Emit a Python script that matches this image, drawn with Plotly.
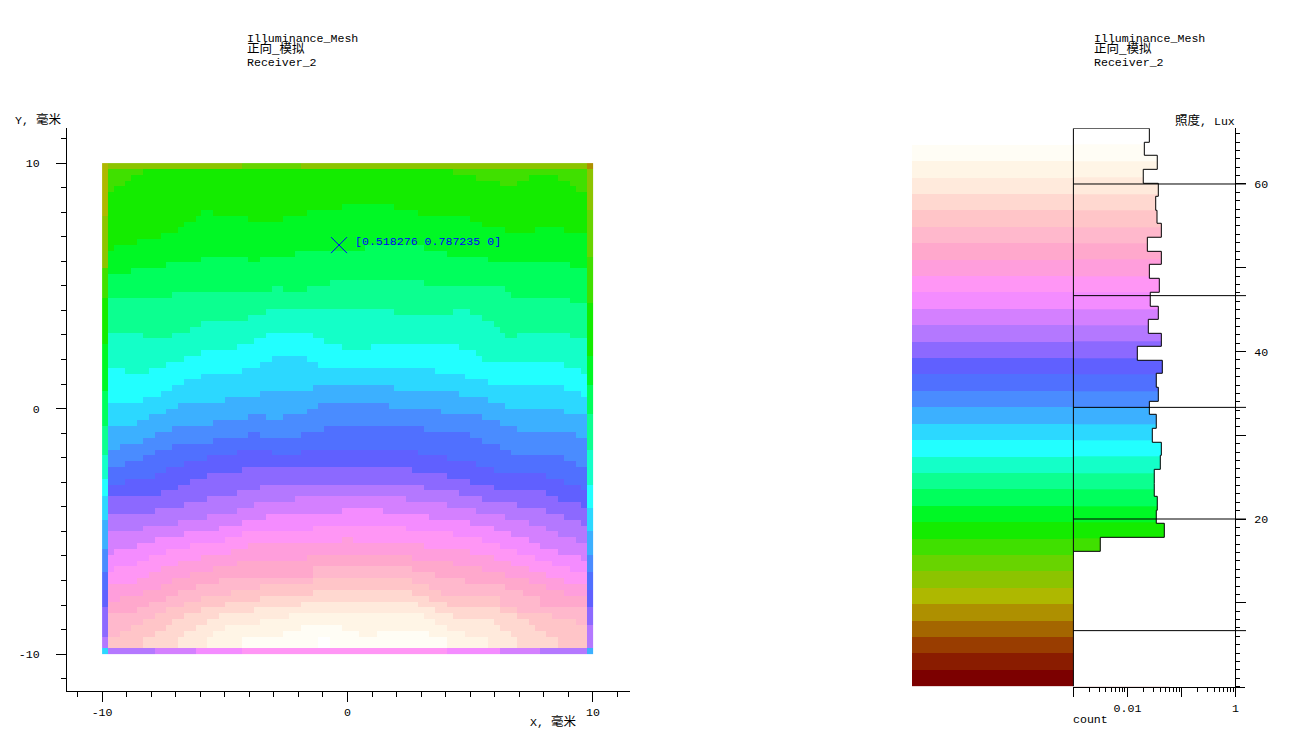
#! python3

# Illuminance map on the left, colour bar and log histogram on the right
import numpy as np
import plotly.graph_objects as go

W, H = 1299, 739
PAGE_MARGIN = 8  # the page body keeps its default margin
TEXT_PAD = 2  # annotations sit this far right of their anchor
MONO = 'Liberation Mono, Noto Sans CJK SC, monospace'

# colours of the illuminance levels, darkest level first
level_colors = ['#7C0000', '#8A1C00', '#993D00', '#A46600', '#AE9000', '#AEB800', '#8CC400',
                '#68D400', '#40E000', '#14EC00', '#00F825', '#00FF5C', '#0CFF90', '#14FFC8',
                '#22FFFF', '#2CD8FF', '#3CB0FF', '#4A8CFF', '#5070FF', '#6060FF', '#8C69FF',
                '#B478FF', '#D480FF', '#F48CFF', '#FF96F5', '#FF9EDC', '#FFA8CC', '#FFB8CC',
                '#FFC5C8', '#FFD8D0', '#FFEADC', '#FFF5E6', '#FFFDF5', '#FFFFFF']

# mesh of the receiver, cells 1 to 82 are the inside, 0 and 83 the edge
MESH_CELLS = 84
mesh_edges_mm = np.linspace(-10, 10, MESH_CELLS + 1)

# first mesh row of each level per column, as (end column, row) runs
top_9 = [(2, 5), (4, 4), (5, 3), (7, 2), (60, 1), (64, 2), (68, 3), (71, 4), (73, 3), (78, 2), (80, 3), (81, 4), (83, 5)]
top_10 = [(2, 15), (6, 14), (10, 13), (13, 12), (14, 11), (16, 10), (17, 9), (19, 8), (25, 9), (31, 10), (35, 9), (41, 8), (50, 7), (54, 8), (63, 9), (65, 10), (69, 11), (74, 12), (79, 11), (83, 12)]
top_11 = [(5, 19), (11, 18), (17, 17), (25, 16), (27, 17), (33, 16), (45, 15), (55, 14), (59, 15), (66, 16), (80, 17), (83, 18)]
top_12 = [(12, 23), (29, 22), (31, 21), (35, 22), (39, 21), (55, 20), (69, 21), (70, 22), (80, 23), (83, 24)]
top_13 = [(7, 29), (12, 30), (15, 29), (17, 28), (25, 27), (28, 26), (50, 25), (60, 26), (63, 25), (65, 26), (67, 27), (68, 28), (69, 29), (71, 30), (80, 29), (83, 30)]
top_14 = [(4, 35), (8, 36), (11, 35), (14, 34), (17, 33), (23, 32), (26, 31), (28, 30), (36, 29), (38, 30), (41, 31), (46, 32), (61, 31), (64, 32), (65, 33), (79, 34), (82, 35), (83, 36)]
top_15 = [(7, 41), (10, 40), (12, 39), (14, 38), (17, 37), (24, 36), (27, 35), (29, 34), (35, 33), (37, 34), (57, 35), (62, 36), (66, 37), (79, 38), (82, 39), (83, 40)]
top_16 = [(6, 45), (8, 44), (11, 43), (13, 42), (21, 41), (27, 40), (36, 39), (50, 38), (61, 39), (66, 40), (69, 41), (79, 42), (83, 43)]
top_17 = [(3, 49), (7, 48), (9, 47), (12, 46), (19, 45), (25, 44), (28, 43), (31, 44), (35, 43), (37, 42), (49, 41), (58, 42), (65, 43), (68, 44), (71, 45), (81, 46), (83, 47)]
top_18 = [(4, 52), (7, 51), (9, 50), (12, 49), (19, 48), (25, 47), (27, 46), (34, 47), (38, 46), (55, 45), (63, 46), (65, 47), (68, 48), (70, 49), (79, 50), (81, 51), (83, 52)]
top_19 = [(4, 55), (9, 54), (11, 53), (14, 52), (18, 51), (23, 50), (29, 49), (34, 50), (54, 49), (59, 50), (64, 51), (67, 52), (76, 53), (79, 54), (82, 55), (83, 56)]
top_20 = [(10, 57), (13, 56), (15, 55), (18, 54), (24, 53), (53, 52), (59, 53), (63, 54), (67, 55), (76, 56), (78, 57), (82, 58), (83, 59)]
top_21 = [(9, 60), (14, 59), (18, 58), (23, 57), (27, 56), (55, 55), (61, 56), (65, 57), (71, 58), (76, 59), (79, 60), (82, 61), (83, 62)]
top_22 = [(7, 63), (13, 62), (18, 61), (23, 60), (26, 59), (33, 58), (52, 57), (59, 58), (64, 59), (69, 60), (73, 61), (76, 62), (78, 63), (81, 64), (83, 65)]
top_23 = [(2, 67), (6, 66), (9, 65), (14, 64), (20, 63), (24, 62), (28, 61), (41, 60), (48, 59), (56, 60), (63, 61), (67, 62), (70, 63), (73, 64), (75, 65), (78, 66), (82, 67), (83, 68)]
top_24 = [(2, 70), (6, 69), (8, 68), (11, 67), (15, 66), (21, 65), (24, 64), (36, 63), (52, 62), (60, 63), (65, 64), (68, 65), (71, 66), (74, 67), (77, 68), (80, 69), (83, 70)]
top_25 = [(6, 72), (8, 71), (10, 70), (13, 69), (17, 68), (22, 67), (25, 66), (41, 65), (43, 64), (55, 65), (63, 66), (67, 67), (70, 68), (73, 69), (76, 70), (79, 71), (83, 72)]
top_26 = [(3, 75), (7, 74), (10, 73), (12, 72), (15, 71), (19, 70), (23, 69), (35, 68), (53, 67), (60, 68), (65, 69), (69, 70), (73, 71), (76, 72), (79, 73), (83, 74)]
top_27 = [(6, 77), (8, 76), (11, 75), (13, 74), (16, 73), (20, 72), (36, 71), (53, 69), (57, 70), (62, 71), (69, 72), (72, 73), (75, 74), (83, 76)]
top_28 = [(3, 81), (5, 80), (7, 79), (9, 78), (11, 77), (14, 76), (17, 75), (22, 74), (27, 73), (36, 72), (53, 71), (56, 72), (58, 73), (68, 74), (71, 76), (77, 77), (81, 78), (83, 79)]
top_29 = [(7, 83), (9, 81), (11, 80), (12, 79), (14, 78), (17, 77), (21, 76), (27, 75), (36, 74), (53, 73), (56, 74), (59, 75), (68, 76), (71, 77), (73, 78), (74, 79), (76, 80), (78, 81), (83, 83)]
top_30 = [(13, 83), (14, 81), (16, 80), (18, 79), (20, 78), (26, 77), (34, 76), (54, 75), (57, 76), (60, 77), (67, 78), (68, 79), (70, 80), (71, 81), (83, 83)]
top_31 = [(18, 83), (19, 81), (21, 80), (27, 79), (32, 78), (55, 77), (57, 78), (59, 79), (62, 80), (66, 81), (83, 83)]
top_32 = [(24, 83), (31, 81), (34, 80), (41, 79), (44, 80), (47, 81), (56, 80), (59, 81), (83, 83)]
top_33 = [(37, 83), (39, 81), (83, 83)]

# levels of the one cell wide edge of the mesh, as (end index, level) runs
top_edge = [(1, 5), (24, 6), (34, 7), (83, 6), (84, 4)]
bottom_edge = [(1, 15), (9, 21), (16, 22), (24, 23), (59, 24), (68, 23), (75, 22), (83, 21), (84, 16)]
left_edge = [(9, 5), (18, 6), (23, 8), (31, 9), (39, 10), (45, 11), (50, 12), (54, 13), (57, 14), (61, 15), (66, 16), (70, 17), (73, 18), (76, 19), (81, 20), (83, 21)]
right_edge = [(8, 6), (16, 7), (24, 8), (33, 9), (38, 10), (43, 11), (49, 12), (55, 13), (59, 14), (63, 15), (67, 16), (70, 17), (73, 18), (76, 19), (79, 20), (83, 21)]

# histogram bins in Lux, top bin first, and their count fractions
hist_edges = [66.65, 64.98, 63.43, 61.75, 60.08, 58.53, 56.86, 55.31, 53.64, 51.96, 50.41,
              48.74, 47.07, 45.40, 43.84, 42.17, 40.62, 38.95, 37.40, 35.73, 34.05, 32.50,
              30.83, 29.16, 27.60, 25.93, 24.26, 22.71, 21.04, 19.49, 17.81, 16.14]
hist_counts = [0.0254, 0.0205, 0.0356, 0.0196, 0.0372, 0.0333, 0.0352, 0.0423, 0.0233, 0.0423,
               0.0254, 0.0388, 0.0264, 0.0372, 0.0243, 0.0423, 0.0152, 0.0441, 0.0341, 0.0372,
               0.0254, 0.0341, 0.0288, 0.0423, 0.0405, 0.0313, 0.0313, 0.0356, 0.0341, 0.0480,
               0.00314]

level_lines = [60, 46.67, 33.33, 20, 6.67]
marker_x, marker_y = [-0.346], [6.66]
marker_label = '[0.518276 0.787235 0]'
lux_top = 66.65


def expand(runs, start):
    values = []
    for end, value in runs:
        values += [value] * (end - start)
        start = end
    return values


def paper_x(px):
    return (px - PAGE_MARGIN) / W


def paper_y(py):
    return 1 - (py - PAGE_MARGIN) / H


def label(text, px, py, color='black', size=11.6):
    fig.add_annotation(text=text, x=paper_x(px - TEXT_PAD), y=paper_y(py), xref='paper', yref='paper',
                       xanchor='left', yanchor='middle', showarrow=False,
                       font=dict(family=MONO, size=size, color=color))


# fill the mesh level by level from the top rows down
mesh = np.full((MESH_CELLS, MESH_CELLS), 8)
level_tops = [top_9, top_10, top_11, top_12, top_13, top_14, top_15, top_16, top_17, top_18, top_19,
              top_20, top_21, top_22, top_23, top_24, top_25, top_26, top_27, top_28, top_29, top_30,
              top_31, top_32, top_33]
for level, runs in enumerate(level_tops, start=9):
    for col, row in enumerate(expand(runs, 1), start=1):
        mesh[row:83, col] = level
mesh[0, :] = expand(top_edge, 0)
mesh[83, :] = expand(bottom_edge, 0)
mesh[1:83, 0] = expand(left_edge, 1)
mesh[1:83, 83] = expand(right_edge, 1)

n_levels = len(level_colors)
colorscale = []
for i, color in enumerate(level_colors):
    colorscale += [[i / n_levels, color], [(i + 1) / n_levels, color]]
band_edges = np.linspace(0, lux_top, n_levels + 1)
band_z = [[i] for i in range(n_levels)]
zrange = dict(zmin=-0.5, zmax=n_levels - 0.5, colorscale=colorscale, showscale=False, hoverinfo='skip')

fig = go.Figure()

# 1 Illuminance map
fig.add_trace(go.Heatmap(z=mesh, x=mesh_edges_mm, y=mesh_edges_mm[::-1], xaxis='x', yaxis='y', **zrange))
fig.add_trace(go.Scatter(x=marker_x, y=marker_y, mode='markers', xaxis='x', yaxis='y', showlegend=False,
                         marker=dict(symbol='x-thin', size=16, line=dict(color='#0000FF', width=1))))

# 2 Colour bar
fig.add_trace(go.Heatmap(z=band_z, x=[0, 1], y=band_edges, xaxis='x3', yaxis='y3', **zrange))

# 3 Histogram, coloured by the same levels and whited out right of the outline
fig.add_trace(go.Heatmap(z=band_z, x=[0.001, 0.06], y=band_edges, xaxis='x2', yaxis='y2', **zrange))
stair_x, stair_y = [0.001], [hist_edges[0]]
for i, count in enumerate(hist_counts):
    stair_x += [count, count]
    stair_y += [hist_edges[i], hist_edges[i + 1]]
stair_x.append(0.001)
stair_y.append(hist_edges[-1])
fig.add_trace(go.Scatter(x=stair_x + [0.001, 0.1, 0.1], y=stair_y + [0, 0, lux_top], xaxis='x2', yaxis='y2',
                         mode='lines', fill='toself', fillcolor='white', line=dict(width=0),
                         hoverinfo='skip', showlegend=False))
fig.add_trace(go.Scatter(x=stair_x, y=stair_y, xaxis='x2', yaxis='y2', mode='lines',
                         line=dict(color='black', width=1), hoverinfo='skip', showlegend=False))

axis_style = dict(showline=True, linecolor='black', linewidth=1, showgrid=False, zeroline=False,
                  ticks='outside', tickcolor='black', tickwidth=1, tickmode='array',
                  tickfont=dict(family=MONO, size=11.6, color='black'))
mm_ticks = dict(tickvals=[-10, 0, 10], ticktext=['-10', '0', '10'], ticklen=10,
                minor=dict(dtick=1, tick0=0, ticks='outside', ticklen=5, tickcolor='black', tickwidth=1))

log_minor = [m * 10.0 ** e for e in (-3, -2, -1) for m in range(2, 10)]

fig.update_layout(
    width=W, height=H, margin=dict(l=0, r=0, t=0, b=0), showlegend=False,
    paper_bgcolor='white', plot_bgcolor='rgba(0,0,0,0)',
    xaxis=dict(domain=[paper_x(67), paper_x(630)], range=[-11.43, 11.51], anchor='y', **axis_style, **mm_ticks),
    yaxis=dict(domain=[paper_y(691), paper_y(128)], range=[-11.5, 11.43], anchor='x', ticklabelstandoff=14,
               **axis_style, **mm_ticks),
    xaxis2=dict(domain=[paper_x(1073.4), paper_x(1245)], type='log', range=[-3, 0.174], anchor='y2',
                tickvals=[0.001, 0.01, 0.1, 1], ticktext=['', '0.01', '', '1'], ticklen=9, ticklabelstandoff=2,
                minor=dict(tickvals=log_minor, ticks='outside', ticklen=4, tickcolor='black', tickwidth=1),
                **axis_style),
    yaxis2=dict(domain=[paper_y(686.5), paper_y(128.3)], range=[0, lux_top], anchor='free', position=paper_x(1235),
                side='right', tickvals=[10, 20, 30, 40, 50, 60], ticktext=['', '20', '', '40', '', '60'], ticklen=10,
                ticklabelstandoff=6,
                minor=dict(dtick=1, tick0=0, ticks='outside', ticklen=4, tickcolor='black', tickwidth=1),
                **axis_style),
    xaxis3=dict(domain=[paper_x(912), paper_x(1073.4)], range=[0, 1], anchor='y3', visible=False),
    yaxis3=dict(domain=[paper_y(686.5), paper_y(128.3)], range=[0, lux_top], anchor='x3', visible=False),
)

# outline left edge and the long level lines of the histogram
fig.add_shape(type='line', xref='paper', yref='y2', x0=paper_x(1073.4), x1=paper_x(1073.4), y0=0, y1=lux_top,
              line=dict(color='black', width=1))
for lux in level_lines:
    fig.add_shape(type='line', xref='paper', yref='y2', x0=paper_x(1073.4), x1=paper_x(1246), y0=lux, y1=lux,
                  line=dict(color='black', width=1))

# Text
cjk = '<span style="font-size:12.5px">%s</span>'
for px in (247, 1094):
    label('Illuminance_Mesh', px, 38)
    label(cjk % '正向_模拟', px, 49)
    label('Receiver_2', px, 62)
label('Y, ' + cjk % '毫米', 15, 120)
label('X, ' + cjk % '毫米', 530, 722)
label(cjk % '照度' + ', Lux', 1175, 121)
label('count', 1073, 719)
label(marker_label, 355, 241, color='#0000FF')

fig.write_html('out.html')
